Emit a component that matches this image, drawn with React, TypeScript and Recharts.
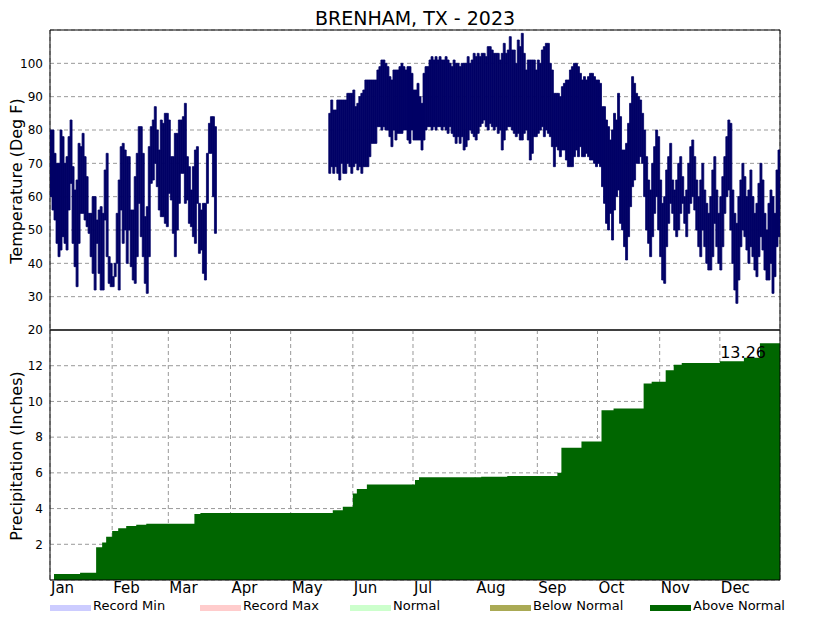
import React from 'react';
import {
  ComposedChart,
  Bar,
  Area,
  XAxis,
  YAxis,
  CartesianGrid,
  ReferenceArea,
  ReferenceDot,
} from 'recharts';

const FONT = '"DejaVu Sans", sans-serif';

// ---------- data ----------
const chartTitle = 'BRENHAM, TX - 2023';
const monthLabels = ['Jan', 'Feb', 'Mar', 'Apr', 'May', 'Jun', 'Jul', 'Aug', 'Sep', 'Oct', 'Nov', 'Dec'];
const monthStartDays = [0, 31, 59, 90, 120, 151, 181, 212, 243, 273, 304, 334];
const tempTicks = [20, 30, 40, 50, 60, 70, 80, 90, 100];
const precipTicks = [2, 4, 6, 8, 10, 12];

// daily temps, first block starts Jan 1 (day 0)
const janMarStartDay = 0;
const janMarHighs = [
  80, 80, 73, 70, 70, 80, 78, 70, 72, 78,
  83, 69, 62, 65, 76, 75, 79, 72, 66, 55,
  55, 60, 60, 53, 56, 57, 55, 68, 73, 42,
  40, 36, 40, 55, 65, 75, 76, 74, 72, 72,
  56, 56, 66, 73, 81, 81, 73, 54, 57, 75,
  81, 83, 87, 80, 74, 83, 82, 85, 85, 83,
  72, 72, 79, 79, 83, 83, 84, 88, 72, 69,
  62, 69, 74, 75, 58, 56, 58, 58, 73, 82,
  84, 84, 81,
];
const janMarLows = [
  60, 56, 53, 46, 42, 44, 48, 46, 44, 56,
  64, 46, 39, 33, 46, 55, 55, 53, 51, 49,
  42, 37, 32, 46, 37, 32, 32, 53, 42, 34,
  33, 33, 36, 40, 32, 56, 46, 50, 40, 50,
  39, 35, 34, 42, 58, 48, 42, 34, 31, 42,
  64, 65, 70, 63, 56, 54, 54, 52, 51, 61,
  59, 49, 42, 50, 58, 67, 67, 58, 59, 52,
  51, 48, 46, 58, 43, 44, 37, 35, 58, 73,
  73, 60, 49,
];

// second block starts May 20 (day 139)
const mayDecStartDay = 139;
const mayDecHighs = [
  85, 89, 86, 86, 89, 89, 89, 89, 89, 91,
  91, 91, 92, 87, 88, 90, 91, 92, 95, 95,
  95, 95, 95, 95, 98, 99, 101, 101, 100, 99,
  96, 95, 98, 98, 98, 99, 100, 99, 98, 99,
  99, 97, 92, 92, 94, 90, 88, 97, 99, 99,
  101, 102, 101, 102, 101, 102, 101, 101, 102, 101,
  100, 99, 101, 100, 100, 99, 100, 100, 100, 102,
  100, 101, 103, 102, 103, 102, 103, 103, 102, 105,
  105, 104, 103, 103, 103, 101, 103, 106, 103, 104,
  108, 104, 104, 100, 107, 105, 109, 103, 98, 101,
  101, 101, 101, 98, 101, 100, 104, 105, 106, 106,
  100, 98, 91, 91, 91, 90, 93, 94, 95, 95,
  98, 99, 100, 100, 99, 97, 95, 96, 95, 96,
  97, 97, 96, 95, 95, 94, 87, 87, 83, 81,
  77, 80, 85, 83, 91, 84, 74, 74, 76, 82,
  88, 96, 94, 91, 90, 89,
  85, 80, 72, 65, 62, 70, 75, 80, 78, 65,
  58, 60, 68, 72, 76, 65, 62, 65, 70, 72,
  66, 60, 62, 70, 75, 77, 72, 65, 60, 65,
  70, 62, 58, 55, 60, 68, 72, 62, 55, 60,
  66, 72, 78, 83, 82, 62, 55, 52, 60, 65,
  70, 66, 60, 62, 68, 60, 55, 58, 64, 70,
  65, 55, 50, 58, 62, 60, 55, 68, 74,
];
const mayDecLows = [
  67, 69, 67, 69, 67, 65, 70, 67, 67, 70,
  69, 67, 69, 70, 68, 69, 67, 69, 69, 69,
  72, 76, 76, 76, 81, 81, 80, 81, 80, 80,
  78, 75, 80, 77, 79, 79, 79, 80, 80, 77,
  76, 80, 77, 77, 77, 77, 74, 77, 80, 81,
  81, 80, 81, 80, 81, 81, 80, 81, 80, 79,
  81, 79, 78, 76, 78, 76, 78, 74, 75, 77,
  80, 79, 78, 77, 79, 81, 82, 83, 81, 80,
  82, 81, 80, 81, 79, 80, 74, 77, 80, 81,
  81, 80, 79, 78, 79, 77, 77, 79, 80, 77,
  71, 73, 78, 78, 79, 80, 81, 78, 80, 79,
  78, 75, 69, 75, 74, 72, 74, 74, 71, 69,
  69, 69, 72, 74, 72, 75, 72, 72, 73, 72,
  71, 71, 70, 69, 70, 69, 63, 58, 52, 50,
  55, 47, 56, 60, 62, 52, 50, 45, 41, 48,
  57, 63, 65, 70, 70, 72,
  70, 60, 50, 46, 42, 48, 55, 60, 50, 42,
  35, 34, 45, 52, 58, 55, 50, 48, 50, 55,
  58, 52, 48, 55, 58, 60, 56, 50, 45, 42,
  50, 45, 40, 38, 38, 42, 52, 45, 40, 38,
  45, 55, 60, 62, 50, 40, 32, 28, 35, 45,
  50, 48, 44, 40, 45, 42, 38, 36, 42, 48,
  44, 38, 35, 35, 40, 31, 36, 45, 48,
];

// cumulative precipitation (inches), step changes by day of year
const precipDays = [
  2, 15, 23, 26, 28, 31, 34, 38, 43, 48, 72, 75,
  141, 146, 151, 153, 158, 182, 184, 215, 228, 253, 255, 265,
  275, 281, 296, 300, 307, 311, 315, 334, 346, 354, 364,
];
const precipTotals = [
  0.34, 0.41, 1.84, 2.1, 2.42, 2.74, 2.9, 3.03, 3.1, 3.15, 3.7, 3.75,
  3.9, 4.1, 4.85, 5.1, 5.35, 5.6, 5.75, 5.78, 5.82, 6.0, 7.4, 7.75,
  9.5, 9.6, 11.0, 11.1, 11.75, 12.05, 12.15, 12.25, 12.45, 13.26, 13.26,
];
const precipTotalLabel = '13.26';

const legendNames = ['Record Min', 'Record Max', 'Normal', 'Below Normal', 'Above Normal'];
const legendColors = ['#ccccff', '#ffcccc', '#ccffcc', '#aaaa55', '#006600'];

// ---------- derived tables ----------
const tempData = [
  ...janMarHighs.map((h, i) => ({ day: janMarStartDay + i + 0.5, range: [janMarLows[i], h] })),
  ...mayDecHighs.map((h, i) => ({ day: mayDecStartDay + i + 0.5, range: [mayDecLows[i], h] })),
];
const precipData = precipDays.map((d, i) => ({ day: d, total: precipTotals[i] }));
const lastPrecip = precipData[precipData.length - 1];

// ---------- layout ----------
const W = 830;
const legendX = [50, 200, 350, 490, 650];
const tickStyle = { fill: '#000', fontSize: 12, fontFamily: FONT };
const gridStroke = '#999999';
const tempColor = '#000066';

const MonthTick = (props: any) => {
  const { x, y, payload } = props;
  const idx = monthStartDays.indexOf(payload.value);
  return (
    <text x={x + 1} y={y + 13} fontSize={15} fontFamily={FONT} fill="#000" textAnchor="start">
      {monthLabels[idx]}
    </text>
  );
};

const TotalLabel = (props: any) => {
  const vb = props.viewBox || {};
  return (
    <text x={vb.x - 13} y={vb.y + 16} fontSize={16} fontFamily={FONT} fill="#000" textAnchor="end">
      {precipTotalLabel}
    </text>
  );
};

export default function App() {
  return (
    <div style={{ position: 'fixed', left: 0, top: 0, width: W, height: 620, background: '#fff' }}>
      <div style={{ position: 'absolute', left: 0, top: 0 }}>
        <ComposedChart
          width={W}
          height={345}
          data={tempData}
          margin={{ top: 30, right: 0, bottom: 15, left: 0 }}
          barCategoryGap={0}
        >
          <CartesianGrid
            yAxisId="left"
            stroke={gridStroke}
            strokeDasharray="4 3"
          />
          <XAxis
            dataKey="day"
            type="number"
            domain={[0, 364]}
            allowDataOverflow
            ticks={monthStartDays}
            tick={false}
            tickLine={false}
            axisLine={false}
            height={0}
          />
          <YAxis
            yAxisId="left"
            orientation="left"
            type="number"
            domain={[20, 110]}
            ticks={tempTicks}
            width={50}
            tick={tickStyle}
            tickLine={false}
            axisLine={false}
            tickSize={6}
            tickMargin={1}
            interval={0}
          />
          <YAxis
            yAxisId="right"
            orientation="right"
            type="number"
            domain={[20, 110]}
            ticks={tempTicks}
            width={50}
            tick={tickStyle}
            tickLine={false}
            axisLine={false}
            tickSize={6}
            tickMargin={0}
            interval={0}
          />
          <Bar
            yAxisId="left"
            dataKey="range"
            fill={tempColor}
            stroke={tempColor}
            strokeWidth={0.8}
            barSize={2}
            isAnimationActive={false}
          />
          <ReferenceArea
            yAxisId="left"
            x1={0}
            x2={364}
            y1={20}
            y2={110}
            fill="none"
            stroke="#000"
            strokeWidth={1}
            fillOpacity={0}
          />
        </ComposedChart>
      </div>
      <div style={{ position: 'absolute', left: 0, top: 320 }}>
        <ComposedChart
          width={W}
          height={300}
          data={precipData}
          margin={{ top: 10, right: 0, bottom: 20, left: 0 }}
        >
          <CartesianGrid
            yAxisId="left"
            stroke={gridStroke}
            strokeDasharray="4 3"
          />
          <XAxis
            dataKey="day"
            type="number"
            domain={[0, 364]}
            allowDataOverflow
            ticks={monthStartDays}
            interval={0}
            tick={<MonthTick />}
            tickLine={false}
            axisLine={false}
            tickSize={0}
            tickMargin={0}
            height={20}
          />
          <YAxis
            yAxisId="left"
            orientation="left"
            type="number"
            domain={[0, 14]}
            ticks={precipTicks}
            width={50}
            tick={tickStyle}
            tickLine={false}
            axisLine={false}
            tickSize={6}
            tickMargin={1}
            interval={0}
          />
          <YAxis
            yAxisId="right"
            orientation="right"
            type="number"
            domain={[0, 14]}
            ticks={precipTicks}
            width={50}
            tick={tickStyle}
            tickLine={false}
            axisLine={false}
            tickSize={6}
            tickMargin={0}
            interval={0}
          />
          <Area
            yAxisId="left"
            type="stepAfter"
            dataKey="total"
            stroke="none"
            fill="#006600"
            fillOpacity={1}
            isAnimationActive={false}
            dot={false}
            activeDot={false}
          />
          <ReferenceArea
            yAxisId="left"
            x1={0}
            x2={364}
            y1={0}
            y2={14}
            fill="none"
            stroke="#000"
            strokeWidth={1}
            fillOpacity={0}
          />
          <ReferenceDot
            yAxisId="left"
            x={lastPrecip.day}
            y={lastPrecip.total}
            r={1}
            fill="none"
            stroke="none"
            label={<TotalLabel />}
          />
        </ComposedChart>
      </div>
      <svg
        width={W}
        height={620}
        style={{ position: 'absolute', left: 0, top: 0, pointerEvents: 'none' }}
      >
        <text x={415} y={25} fontSize={19} fontFamily={FONT} textAnchor="middle" fill="#000">
          {chartTitle}
        </text>
        <text
          x={22}
          y={181}
          fontSize={16}
          fontFamily={FONT}
          textAnchor="middle"
          fill="#000"
          transform="rotate(-90, 22, 181)"
        >
          Temperature (Deg F)
        </text>
        <text
          x={22}
          y={456}
          fontSize={16}
          fontFamily={FONT}
          textAnchor="middle"
          fill="#000"
          transform="rotate(-90, 22, 456)"
        >
          Precipitation (Inches)
        </text>
        {legendNames.map((name, i) => (
          <g key={name}>
            <rect x={legendX[i]} y={605} width={41} height={6} fill={legendColors[i]} />
            <text x={legendX[i] + 43} y={610} fontSize={13} fontFamily={FONT} fill="#000">
              {name}
            </text>
          </g>
        ))}
      </svg>
    </div>
  );
}
